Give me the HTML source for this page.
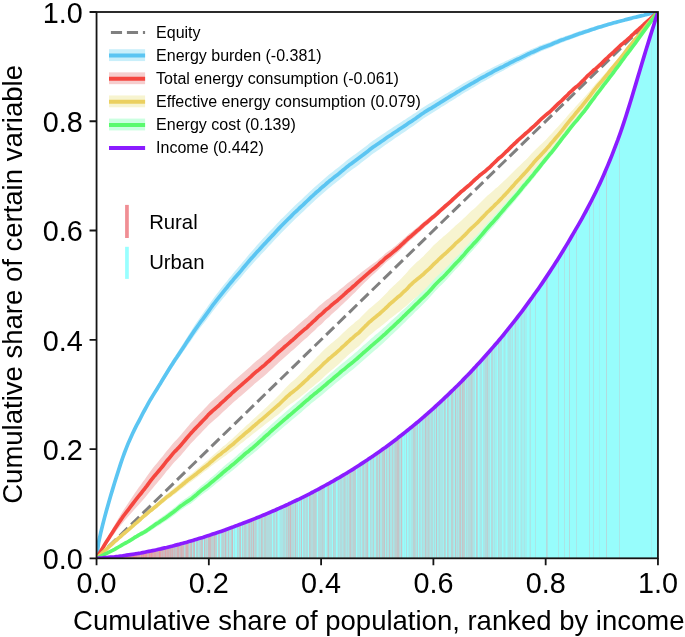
<!DOCTYPE html>
<html><head><meta charset="utf-8"><title>Concentration curves</title>
<style>
html,body{margin:0;padding:0;background:#fff;}
body{width:685px;height:637px;overflow:hidden;}
svg{display:block;}
text{font-family:"Liberation Sans",Arial,Helvetica,sans-serif;fill:#000;}
.tick{font-size:28.8px;}
.lab{font-size:27.5px;}
.leg{font-size:16px;}
.leg2{font-size:20.3px;}
</style></head><body>
<svg width="685" height="637" viewBox="0 0 685 637">
<rect width="685" height="637" fill="#fff"/>
<defs><clipPath id="ar"><path d="M96.5 558.3L98.6 558.2L100.6 558.0L102.6 557.9L104.6 557.7L106.6 557.6L108.6 557.4L110.6 557.2L112.6 557.0L114.6 556.8L116.6 556.5L118.6 556.3L120.6 556.0L122.6 555.8L124.6 555.5L126.6 555.2L128.6 554.9L130.6 554.6L132.6 554.3L134.6 554.0L136.7 553.7L138.7 553.3L140.7 553.0L142.7 552.6L144.7 552.2L146.7 551.8L148.7 551.4L150.7 551.0L152.7 550.6L154.7 550.2L156.7 549.8L158.7 549.3L160.7 548.9L162.7 548.4L164.7 547.9L166.7 547.5L168.7 547.0L170.7 546.5L172.7 546.0L174.7 545.4L176.8 544.9L178.8 544.4L180.8 543.8L182.8 543.3L184.8 542.7L186.8 542.2L188.8 541.6L190.8 541.0L192.8 540.4L194.8 539.8L196.8 539.2L198.8 538.6L200.8 538.0L202.8 537.4L204.8 536.7L206.8 536.1L208.8 535.4L210.8 534.8L212.8 534.1L214.8 533.4L216.9 532.7L218.9 532.1L220.9 531.4L222.9 530.7L224.9 530.0L226.9 529.2L228.9 528.5L230.9 527.8L232.9 527.1L234.9 526.3L236.9 525.6L238.9 524.8L240.9 524.1L242.9 523.3L244.9 522.5L246.9 521.8L248.9 521.0L250.9 520.2L252.9 519.4L254.9 518.6L256.9 517.8L259.0 517.0L261.0 516.1L263.0 515.3L265.0 514.5L267.0 513.6L269.0 512.8L271.0 511.9L273.0 511.0L275.0 510.2L277.0 509.3L279.0 508.4L281.0 507.5L283.0 506.6L285.0 505.7L287.0 504.8L289.0 503.8L291.0 502.9L293.0 501.9L295.0 501.0L297.1 500.0L299.1 499.1L301.1 498.1L303.1 497.1L305.1 496.1L307.1 495.1L309.1 494.1L311.1 493.0L313.1 492.0L315.1 490.9L317.1 489.9L319.1 488.8L321.1 487.7L323.1 486.6L325.1 485.5L327.1 484.4L329.1 483.3L331.1 482.2L333.1 481.1L335.1 479.9L337.2 478.7L339.2 477.6L341.2 476.4L343.2 475.2L345.2 474.0L347.2 472.8L349.2 471.5L351.2 470.3L353.2 469.1L355.2 467.8L357.2 466.5L359.2 465.2L361.2 463.9L363.2 462.6L365.2 461.3L367.2 460.0L369.2 458.6L371.2 457.3L373.2 455.9L375.2 454.5L377.3 453.1L379.3 451.7L381.3 450.3L383.3 448.8L385.3 447.4L387.3 445.9L389.3 444.4L391.3 442.9L393.3 441.4L395.3 439.9L397.3 438.4L399.3 436.8L401.3 435.3L403.3 433.7L405.3 432.1L407.3 430.5L409.3 428.9L411.3 427.3L413.3 425.6L415.3 424.0L417.4 422.3L419.4 420.6L421.4 418.9L423.4 417.2L425.4 415.4L427.4 413.7L429.4 411.9L431.4 410.1L433.4 408.3L435.4 406.5L437.4 404.7L439.4 402.8L441.4 401.0L443.4 399.1L445.4 397.2L447.4 395.3L449.4 393.4L451.4 391.4L453.4 389.5L455.4 387.5L457.5 385.5L459.5 383.5L461.5 381.5L463.5 379.4L465.5 377.3L467.5 375.3L469.5 373.2L471.5 371.1L473.5 368.9L475.5 366.8L477.5 364.6L479.5 362.4L481.5 360.2L483.5 358.0L485.5 355.7L487.5 353.5L489.5 351.2L491.5 348.9L493.5 346.6L495.5 344.2L497.6 341.9L499.6 339.5L501.6 337.1L503.6 334.7L505.6 332.2L507.6 329.7L509.6 327.2L511.6 324.7L513.6 322.2L515.6 319.6L517.6 317.0L519.6 314.4L521.6 311.8L523.6 309.1L525.6 306.4L527.6 303.7L529.6 300.9L531.6 298.2L533.6 295.3L535.6 292.5L537.7 289.7L539.7 286.8L541.7 283.9L543.7 280.9L545.7 277.9L547.7 274.9L549.7 271.9L551.7 268.8L553.7 265.7L555.7 262.6L557.7 259.4L559.7 256.2L561.7 253.0L563.7 249.7L565.7 246.4L567.7 243.1L569.7 239.7L571.7 236.3L573.7 232.9L575.7 229.4L577.8 225.9L579.8 222.4L581.8 218.8L583.8 215.2L585.8 211.5L587.8 207.7L589.8 203.9L591.8 200.0L593.8 196.0L595.8 192.0L597.8 187.8L599.8 183.6L601.8 179.2L603.8 174.7L605.8 170.1L607.8 165.4L609.8 160.5L611.8 155.6L613.8 150.4L615.8 145.1L617.9 139.7L619.9 134.1L621.9 128.3L623.9 122.4L625.9 116.2L627.9 109.9L629.9 103.5L631.9 97.0L633.9 90.3L635.9 83.6L637.9 76.9L639.9 70.2L641.9 63.5L643.9 56.9L645.9 50.3L647.9 43.9L649.9 37.4L651.9 31.0L653.9 24.7L655.9 18.3L658.0 12.0L658.0 558.3 L96.5 558.3 Z"/></clipPath><clipPath id="ax"><rect x="96.5" y="12.0" width="561.4" height="546.3"/></clipPath></defs>
<g clip-path="url(#ar)"><rect x="96.5" y="12.0" width="561.4" height="546.3" fill="#97FDFC"/><path d="M257.5 558.3V12.0M275.5 558.3V12.0M279.5 558.3V12.0M300.5 558.3V12.0M326.5 558.3V12.0M337.5 558.3V12.0M361.5 558.3V12.0M368.5 558.3V12.0M374.5 558.3V12.0M375.5 558.3V12.0M385.5 558.3V12.0M402.5 558.3V12.0M404.5 558.3V12.0M408.5 558.3V12.0M410.5 558.3V12.0M421.5 558.3V12.0M433.5 558.3V12.0M435.5 558.3V12.0M437.5 558.3V12.0M443.5 558.3V12.0M449.5 558.3V12.0M450.5 558.3V12.0M454.5 558.3V12.0M465.5 558.3V12.0M479.5 558.3V12.0M493.5 558.3V12.0M495.5 558.3V12.0M496.5 558.3V12.0M503.5 558.3V12.0M505.5 558.3V12.0M507.5 558.3V12.0M511.5 558.3V12.0M514.5 558.3V12.0M516.5 558.3V12.0M517.5 558.3V12.0M518.5 558.3V12.0M520.5 558.3V12.0M522.5 558.3V12.0M523.5 558.3V12.0M525.5 558.3V12.0M526.5 558.3V12.0M529.5 558.3V12.0M599.5 558.3V12.0M651.5 558.3V12.0" stroke="#F08E94" stroke-width="1" stroke-opacity="0.1" fill="none"/><path d="M192.5 558.3V12.0M198.5 558.3V12.0M227.5 558.3V12.0M229.5 558.3V12.0M230.5 558.3V12.0M234.5 558.3V12.0M238.5 558.3V12.0M243.5 558.3V12.0M247.5 558.3V12.0M258.5 558.3V12.0M260.5 558.3V12.0M263.5 558.3V12.0M277.5 558.3V12.0M280.5 558.3V12.0M281.5 558.3V12.0M282.5 558.3V12.0M285.5 558.3V12.0M294.5 558.3V12.0M296.5 558.3V12.0M305.5 558.3V12.0M329.5 558.3V12.0M330.5 558.3V12.0M331.5 558.3V12.0M339.5 558.3V12.0M342.5 558.3V12.0M346.5 558.3V12.0M348.5 558.3V12.0M357.5 558.3V12.0M358.5 558.3V12.0M359.5 558.3V12.0M364.5 558.3V12.0M371.5 558.3V12.0M372.5 558.3V12.0M378.5 558.3V12.0M380.5 558.3V12.0M381.5 558.3V12.0M387.5 558.3V12.0M388.5 558.3V12.0M390.5 558.3V12.0M391.5 558.3V12.0M393.5 558.3V12.0M400.5 558.3V12.0M409.5 558.3V12.0M411.5 558.3V12.0M412.5 558.3V12.0M416.5 558.3V12.0M420.5 558.3V12.0M423.5 558.3V12.0M424.5 558.3V12.0M430.5 558.3V12.0M438.5 558.3V12.0M440.5 558.3V12.0M441.5 558.3V12.0M442.5 558.3V12.0M453.5 558.3V12.0M456.5 558.3V12.0M458.5 558.3V12.0M461.5 558.3V12.0M467.5 558.3V12.0M473.5 558.3V12.0M474.5 558.3V12.0M480.5 558.3V12.0M481.5 558.3V12.0M483.5 558.3V12.0M484.5 558.3V12.0M488.5 558.3V12.0M489.5 558.3V12.0M494.5 558.3V12.0M499.5 558.3V12.0M500.5 558.3V12.0M501.5 558.3V12.0M504.5 558.3V12.0M508.5 558.3V12.0M509.5 558.3V12.0M510.5 558.3V12.0M512.5 558.3V12.0M521.5 558.3V12.0M524.5 558.3V12.0M530.5 558.3V12.0M535.5 558.3V12.0M547.5 558.3V12.0M558.5 558.3V12.0M564.5 558.3V12.0M576.5 558.3V12.0M589.5 558.3V12.0M593.5 558.3V12.0M619.5 558.3V12.0" stroke="#F08E94" stroke-width="1" stroke-opacity="0.2" fill="none"/><path d="M184.5 558.3V12.0M189.5 558.3V12.0M199.5 558.3V12.0M205.5 558.3V12.0M207.5 558.3V12.0M221.5 558.3V12.0M224.5 558.3V12.0M226.5 558.3V12.0M237.5 558.3V12.0M246.5 558.3V12.0M250.5 558.3V12.0M252.5 558.3V12.0M254.5 558.3V12.0M256.5 558.3V12.0M259.5 558.3V12.0M266.5 558.3V12.0M267.5 558.3V12.0M268.5 558.3V12.0M269.5 558.3V12.0M270.5 558.3V12.0M271.5 558.3V12.0M273.5 558.3V12.0M274.5 558.3V12.0M283.5 558.3V12.0M284.5 558.3V12.0M287.5 558.3V12.0M291.5 558.3V12.0M292.5 558.3V12.0M293.5 558.3V12.0M297.5 558.3V12.0M299.5 558.3V12.0M303.5 558.3V12.0M304.5 558.3V12.0M306.5 558.3V12.0M307.5 558.3V12.0M311.5 558.3V12.0M312.5 558.3V12.0M316.5 558.3V12.0M318.5 558.3V12.0M319.5 558.3V12.0M320.5 558.3V12.0M321.5 558.3V12.0M323.5 558.3V12.0M324.5 558.3V12.0M327.5 558.3V12.0M334.5 558.3V12.0M335.5 558.3V12.0M338.5 558.3V12.0M340.5 558.3V12.0M341.5 558.3V12.0M343.5 558.3V12.0M345.5 558.3V12.0M347.5 558.3V12.0M351.5 558.3V12.0M352.5 558.3V12.0M360.5 558.3V12.0M362.5 558.3V12.0M365.5 558.3V12.0M370.5 558.3V12.0M394.5 558.3V12.0M399.5 558.3V12.0M406.5 558.3V12.0M415.5 558.3V12.0M419.5 558.3V12.0M422.5 558.3V12.0M426.5 558.3V12.0M427.5 558.3V12.0M429.5 558.3V12.0M431.5 558.3V12.0M432.5 558.3V12.0M434.5 558.3V12.0M439.5 558.3V12.0M445.5 558.3V12.0M448.5 558.3V12.0M457.5 558.3V12.0M466.5 558.3V12.0M468.5 558.3V12.0M469.5 558.3V12.0M470.5 558.3V12.0M472.5 558.3V12.0M477.5 558.3V12.0M485.5 558.3V12.0M486.5 558.3V12.0M491.5 558.3V12.0M492.5 558.3V12.0M498.5 558.3V12.0M515.5 558.3V12.0M546.5 558.3V12.0M569.5 558.3V12.0M606.5 558.3V12.0" stroke="#F08E94" stroke-width="1" stroke-opacity="0.3" fill="none"/><path d="M196.5 558.3V12.0M197.5 558.3V12.0M200.5 558.3V12.0M206.5 558.3V12.0M211.5 558.3V12.0M212.5 558.3V12.0M213.5 558.3V12.0M215.5 558.3V12.0M216.5 558.3V12.0M218.5 558.3V12.0M219.5 558.3V12.0M222.5 558.3V12.0M223.5 558.3V12.0M231.5 558.3V12.0M239.5 558.3V12.0M242.5 558.3V12.0M244.5 558.3V12.0M245.5 558.3V12.0M248.5 558.3V12.0M255.5 558.3V12.0M262.5 558.3V12.0M264.5 558.3V12.0M265.5 558.3V12.0M276.5 558.3V12.0M286.5 558.3V12.0M289.5 558.3V12.0M310.5 558.3V12.0M313.5 558.3V12.0M314.5 558.3V12.0M315.5 558.3V12.0M322.5 558.3V12.0M333.5 558.3V12.0M344.5 558.3V12.0M349.5 558.3V12.0M353.5 558.3V12.0M354.5 558.3V12.0M355.5 558.3V12.0M363.5 558.3V12.0M366.5 558.3V12.0M373.5 558.3V12.0M376.5 558.3V12.0M377.5 558.3V12.0M382.5 558.3V12.0M383.5 558.3V12.0M386.5 558.3V12.0M392.5 558.3V12.0M395.5 558.3V12.0M396.5 558.3V12.0M413.5 558.3V12.0M414.5 558.3V12.0M417.5 558.3V12.0M428.5 558.3V12.0M444.5 558.3V12.0M447.5 558.3V12.0M451.5 558.3V12.0M452.5 558.3V12.0M459.5 558.3V12.0M463.5 558.3V12.0M464.5 558.3V12.0M471.5 558.3V12.0M476.5 558.3V12.0M487.5 558.3V12.0" stroke="#F08E94" stroke-width="1" stroke-opacity="0.4" fill="none"/><path d="M173.5 558.3V12.0M175.5 558.3V12.0M176.5 558.3V12.0M179.5 558.3V12.0M185.5 558.3V12.0M188.5 558.3V12.0M190.5 558.3V12.0M193.5 558.3V12.0M201.5 558.3V12.0M202.5 558.3V12.0M228.5 558.3V12.0M240.5 558.3V12.0M249.5 558.3V12.0M251.5 558.3V12.0M261.5 558.3V12.0M288.5 558.3V12.0M295.5 558.3V12.0M301.5 558.3V12.0M309.5 558.3V12.0M328.5 558.3V12.0M350.5 558.3V12.0M367.5 558.3V12.0M379.5 558.3V12.0M384.5 558.3V12.0M389.5 558.3V12.0M397.5 558.3V12.0M398.5 558.3V12.0M401.5 558.3V12.0M425.5 558.3V12.0M436.5 558.3V12.0M455.5 558.3V12.0M460.5 558.3V12.0M462.5 558.3V12.0" stroke="#F08E94" stroke-width="1" stroke-opacity="0.5" fill="none"/><path d="M161.5 558.3V12.0M163.5 558.3V12.0M164.5 558.3V12.0M166.5 558.3V12.0M169.5 558.3V12.0M171.5 558.3V12.0M174.5 558.3V12.0M180.5 558.3V12.0M182.5 558.3V12.0M183.5 558.3V12.0M191.5 558.3V12.0M194.5 558.3V12.0M204.5 558.3V12.0M208.5 558.3V12.0M209.5 558.3V12.0M210.5 558.3V12.0M214.5 558.3V12.0M225.5 558.3V12.0M232.5 558.3V12.0M253.5 558.3V12.0M290.5 558.3V12.0" stroke="#F08E94" stroke-width="1" stroke-opacity="0.6" fill="none"/><path d="M118.5 558.3V12.0M123.5 558.3V12.0M140.5 558.3V12.0M147.5 558.3V12.0M148.5 558.3V12.0M153.5 558.3V12.0M156.5 558.3V12.0M157.5 558.3V12.0M158.5 558.3V12.0M162.5 558.3V12.0M167.5 558.3V12.0M168.5 558.3V12.0M170.5 558.3V12.0M172.5 558.3V12.0M177.5 558.3V12.0M178.5 558.3V12.0M181.5 558.3V12.0M186.5 558.3V12.0M187.5 558.3V12.0" stroke="#F08E94" stroke-width="1" stroke-opacity="0.7" fill="none"/><path d="M103.5 558.3V12.0M107.5 558.3V12.0M108.5 558.3V12.0M109.5 558.3V12.0M112.5 558.3V12.0M117.5 558.3V12.0M120.5 558.3V12.0M121.5 558.3V12.0M122.5 558.3V12.0M125.5 558.3V12.0M131.5 558.3V12.0M132.5 558.3V12.0M137.5 558.3V12.0M138.5 558.3V12.0M139.5 558.3V12.0M142.5 558.3V12.0M144.5 558.3V12.0M150.5 558.3V12.0M152.5 558.3V12.0M154.5 558.3V12.0M155.5 558.3V12.0M160.5 558.3V12.0M165.5 558.3V12.0" stroke="#F08E94" stroke-width="1" stroke-opacity="0.8" fill="none"/><path d="M97.5 558.3V12.0M98.5 558.3V12.0M100.5 558.3V12.0M101.5 558.3V12.0M102.5 558.3V12.0M104.5 558.3V12.0M105.5 558.3V12.0M106.5 558.3V12.0M110.5 558.3V12.0M111.5 558.3V12.0M115.5 558.3V12.0M116.5 558.3V12.0M119.5 558.3V12.0M124.5 558.3V12.0M126.5 558.3V12.0M127.5 558.3V12.0M128.5 558.3V12.0M129.5 558.3V12.0M130.5 558.3V12.0M135.5 558.3V12.0M136.5 558.3V12.0M141.5 558.3V12.0M143.5 558.3V12.0M145.5 558.3V12.0M146.5 558.3V12.0M149.5 558.3V12.0M151.5 558.3V12.0M159.5 558.3V12.0" stroke="#F08E94" stroke-width="1" stroke-opacity="0.9" fill="none"/><path d="M99.5 558.3V12.0M113.5 558.3V12.0M114.5 558.3V12.0M133.5 558.3V12.0M134.5 558.3V12.0" stroke="#F08E94" stroke-width="1" stroke-opacity="1.0" fill="none"/></g>
<g clip-path="url(#ax)" fill="none" stroke-linejoin="round">
<path d="M96.5 558.3L98.6 542.4L100.6 533.1L102.6 524.8L104.6 517.1L106.6 509.6L108.6 502.5L110.6 495.5L112.6 488.7L114.6 482.0L116.6 475.5L118.6 469.1L120.6 462.8L122.6 456.9L124.6 451.2L126.6 446.1L128.6 441.0L130.6 436.4L132.6 432.0L134.6 427.7L136.7 423.4L138.7 419.6L140.7 415.6L142.7 411.7L144.7 407.9L146.7 404.1L148.7 400.4L150.7 396.8L152.7 393.4L154.7 390.0L156.7 386.7L158.7 383.3L160.7 379.9L162.7 376.5L164.7 373.2L166.7 369.7L168.7 366.4L170.7 363.1L172.7 359.8L174.7 356.7L176.8 353.5L178.8 350.3L180.8 347.2L182.8 344.1L184.8 340.9L186.8 337.7L188.8 334.6L190.8 331.4L192.8 328.2L194.8 325.1L196.8 322.1L198.8 319.2L200.8 316.2L202.8 313.5L204.8 310.5L206.8 307.7L208.8 304.8L210.8 302.0L212.8 299.2L214.8 296.5L216.9 293.8L218.9 291.2L220.9 288.6L222.9 286.1L224.9 283.6L226.9 281.2L228.9 278.6L230.9 276.2L232.9 273.7L234.9 271.3L236.9 269.0L238.9 266.6L240.9 264.3L242.9 261.7L244.9 259.4L246.9 257.0L248.9 254.5L250.9 252.2L252.9 250.0L254.9 247.7L256.9 245.3L259.0 243.1L261.0 240.8L263.0 238.5L265.0 236.4L267.0 234.2L269.0 232.1L271.0 230.0L273.0 227.9L275.0 225.7L277.0 223.6L279.0 221.5L281.0 219.3L283.0 217.4L285.0 215.4L287.0 213.4L289.0 211.4L291.0 209.5L293.0 207.4L295.0 205.5L297.1 203.6L299.1 201.7L301.1 199.9L303.1 198.0L305.1 196.1L307.1 194.2L309.1 192.3L311.1 190.4L313.1 188.6L315.1 186.8L317.1 185.0L319.1 183.3L321.1 181.5L323.1 179.8L325.1 178.1L327.1 176.3L329.1 174.6L331.1 173.1L333.1 171.4L335.1 169.8L337.2 168.3L339.2 166.7L341.2 164.9L343.2 163.4L345.2 161.8L347.2 160.1L349.2 158.5L351.2 157.1L353.2 155.6L355.2 154.2L357.2 152.7L359.2 151.3L361.2 149.7L363.2 148.2L365.2 146.7L367.2 145.2L369.2 143.6L371.2 142.1L373.2 140.6L375.2 139.2L377.3 137.8L379.3 136.5L381.3 135.1L383.3 133.8L385.3 132.4L387.3 131.0L389.3 129.7L391.3 128.5L393.3 127.1L395.3 125.8L397.3 124.5L399.3 123.2L401.3 121.9L403.3 120.6L405.3 119.4L407.3 118.1L409.3 116.7L411.3 115.5L413.3 114.1L415.3 112.9L417.4 111.4L419.4 110.0L421.4 108.6L423.4 107.3L425.4 105.9L427.4 104.8L429.4 103.6L431.4 102.5L433.4 101.3L435.4 100.1L437.4 98.9L439.4 97.7L441.4 96.4L443.4 95.2L445.4 94.1L447.4 93.0L449.4 91.7L451.4 90.6L453.4 89.4L455.4 88.2L457.5 86.9L459.5 85.8L461.5 84.5L463.5 83.3L465.5 82.2L467.5 81.1L469.5 80.0L471.5 78.9L473.5 77.8L475.5 76.7L477.5 75.6L479.5 74.4L481.5 73.3L483.5 72.2L485.5 71.2L487.5 70.1L489.5 69.2L491.5 68.1L493.5 66.9L495.5 65.9L497.6 65.0L499.6 64.0L501.6 63.1L503.6 62.2L505.6 61.1L507.6 60.3L509.6 59.2L511.6 58.2L513.6 57.3L515.6 56.4L517.6 55.5L519.6 54.7L521.6 53.8L523.6 52.8L525.6 51.8L527.6 50.9L529.6 50.1L531.6 49.1L533.6 48.3L535.6 47.5L537.7 46.6L539.7 45.6L541.7 44.9L543.7 44.1L545.7 43.5L547.7 42.8L549.7 42.2L551.7 41.3L553.7 40.4L555.7 39.6L557.7 38.9L559.7 38.1L561.7 37.3L563.7 36.7L565.7 36.0L567.7 35.3L569.7 34.7L571.7 34.1L573.7 33.3L575.7 32.5L577.8 31.8L579.8 31.1L581.8 30.5L583.8 29.8L585.8 29.4L587.8 28.7L589.8 28.0L591.8 27.4L593.8 26.8L595.8 26.2L597.8 25.5L599.8 25.0L601.8 24.4L603.8 23.8L605.8 23.3L607.8 22.8L609.8 22.3L611.8 21.8L613.8 21.3L615.8 20.9L617.9 20.4L619.9 19.8L621.9 19.4L623.9 19.0L625.9 18.4L627.9 18.0L629.9 17.6L631.9 17.2L633.9 16.7L635.9 16.3L637.9 15.9L639.9 15.4L641.9 15.1L643.9 14.7L645.9 14.2L647.9 13.8L649.9 13.5L651.9 13.1L653.9 12.7L655.9 12.4L658.0 12.0L658.0 12.0L655.9 12.5L653.9 13.0L651.9 13.5L649.9 14.1L647.9 14.5L645.9 15.1L643.9 15.7L641.9 16.2L639.9 16.7L637.9 17.3L635.9 17.9L633.9 18.4L631.9 19.0L629.9 19.6L627.9 20.2L625.9 20.7L623.9 21.5L621.9 22.0L619.9 22.6L617.9 23.3L615.8 23.9L613.8 24.4L611.8 25.1L609.8 25.8L607.8 26.4L605.8 27.0L603.8 27.7L601.8 28.4L599.8 29.1L597.8 29.7L595.8 30.4L593.8 31.1L591.8 31.7L589.8 32.5L587.8 33.2L585.8 33.9L583.8 34.5L581.8 35.2L579.8 35.9L577.8 36.7L575.7 37.4L573.7 38.3L571.7 39.1L569.7 39.8L567.7 40.5L565.7 41.3L563.7 42.1L561.7 42.7L559.7 43.6L557.7 44.5L555.7 45.3L553.7 46.1L551.7 47.1L549.7 48.0L547.7 48.7L545.7 49.5L543.7 50.3L541.7 51.1L539.7 51.9L537.7 53.0L535.6 54.1L533.6 55.0L531.6 55.8L529.6 56.9L527.6 57.8L525.6 58.9L523.6 60.0L521.6 61.1L519.6 62.1L517.6 63.0L515.6 64.1L513.6 65.0L511.6 66.0L509.6 67.1L507.6 68.3L505.6 69.3L503.6 70.4L501.6 71.5L499.6 72.5L497.6 73.6L495.5 74.5L493.5 75.7L491.5 77.0L489.5 78.2L487.5 79.2L485.5 80.4L483.5 81.4L481.5 82.5L479.5 83.7L477.5 85.0L475.5 86.2L473.5 87.4L471.5 88.6L469.5 89.7L467.5 90.9L465.5 92.1L463.5 93.3L461.5 94.5L459.5 95.9L457.5 97.0L455.4 98.4L453.4 99.7L451.4 100.9L449.4 102.1L447.4 103.5L445.4 104.7L443.4 105.9L441.4 107.1L439.4 108.5L437.4 109.8L435.4 111.0L433.4 112.3L431.4 113.6L429.4 114.8L427.4 116.0L425.4 117.2L423.4 118.6L421.4 120.0L419.4 121.5L417.4 122.9L415.3 124.5L413.3 125.9L411.3 127.3L409.3 128.6L407.3 130.0L405.3 131.4L403.3 132.7L401.3 134.1L399.3 135.4L397.3 136.8L395.3 138.1L393.3 139.5L391.3 141.0L389.3 142.3L387.3 143.7L385.3 145.1L383.3 146.6L381.3 148.0L379.3 149.4L377.3 150.8L375.2 152.2L373.2 153.6L371.2 155.1L369.2 156.7L367.2 158.3L365.2 159.8L363.2 161.3L361.2 162.8L359.2 164.4L357.2 165.9L355.2 167.4L353.2 168.8L351.2 170.3L349.2 171.7L347.2 173.3L345.2 175.0L343.2 176.7L341.2 178.2L339.2 180.0L337.2 181.6L335.1 183.2L333.1 184.8L331.1 186.5L329.1 188.0L327.1 189.8L325.1 191.6L323.1 193.2L321.1 195.0L319.1 196.8L317.1 198.5L315.1 200.3L313.1 202.2L311.1 204.0L309.1 205.9L307.1 207.8L305.1 209.7L303.1 211.7L301.1 213.5L299.1 215.4L297.1 217.3L295.0 219.2L293.0 221.2L291.0 223.3L289.0 225.2L287.0 227.2L285.0 229.2L283.0 231.2L281.0 233.2L279.0 235.4L277.0 237.5L275.0 239.6L273.0 241.8L271.0 244.0L269.0 246.1L267.0 248.2L265.0 250.4L263.0 252.5L261.0 254.6L259.0 256.9L256.9 259.0L254.9 261.3L252.9 263.6L250.9 265.7L248.9 268.0L246.9 270.3L244.9 272.6L242.9 274.9L240.9 277.4L238.9 279.7L236.9 282.0L234.9 284.2L232.9 286.6L230.9 288.9L228.9 291.3L226.9 293.8L224.9 296.2L222.9 298.6L220.9 301.1L218.9 303.5L216.9 306.1L214.8 308.8L212.8 311.3L210.8 314.0L208.8 316.8L206.8 319.4L204.8 322.0L202.8 324.6L200.8 327.1L198.8 329.8L196.8 332.4L194.8 335.1L192.8 337.9L190.8 340.9L188.8 343.7L186.8 346.6L184.8 349.5L182.8 352.3L180.8 355.2L178.8 358.1L176.8 361.1L174.7 364.0L172.7 367.0L170.7 370.0L168.7 373.1L166.7 376.2L164.7 379.5L162.7 382.5L160.7 385.8L158.7 388.9L156.7 392.1L154.7 395.2L152.7 398.4L150.7 401.6L148.7 405.0L146.7 408.6L144.7 412.1L142.7 415.8L140.7 419.5L138.7 423.3L136.7 427.0L134.6 431.1L132.6 435.2L130.6 439.5L128.6 443.8L126.6 448.8L124.6 453.7L122.6 459.2L120.6 465.0L118.6 471.1L116.6 477.3L114.6 483.6L112.6 490.2L110.6 496.7L108.6 503.6L106.6 510.5L104.6 517.8L102.6 525.3L100.6 533.4L98.6 542.6L96.5 558.3Z" fill="#C9EFFA" stroke="none"/>
<path d="M96.5 558.3L98.6 554.4L100.6 550.5L102.6 546.7L104.6 542.9L106.6 539.2L108.6 535.5L110.6 532.0L112.6 528.4L114.6 524.9L116.6 521.4L118.6 518.1L120.6 514.8L122.6 511.5L124.6 508.5L126.6 505.5L128.6 502.5L130.6 499.5L132.6 496.5L134.6 493.5L136.7 490.5L138.7 487.6L140.7 484.9L142.7 482.1L144.7 479.4L146.7 476.6L148.7 473.7L150.7 470.9L152.7 468.2L154.7 465.7L156.7 463.4L158.7 460.9L160.7 458.5L162.7 456.2L164.7 453.6L166.7 450.9L168.7 448.7L170.7 446.2L172.7 443.7L174.7 441.4L176.8 439.5L178.8 437.2L180.8 435.0L182.8 432.6L184.8 430.2L186.8 427.7L188.8 425.4L190.8 423.1L192.8 421.0L194.8 418.8L196.8 416.7L198.8 414.6L200.8 412.6L202.8 410.4L204.8 408.3L206.8 406.2L208.8 403.9L210.8 402.1L212.8 400.3L214.8 398.5L216.9 396.8L218.9 395.0L220.9 393.0L222.9 391.2L224.9 389.3L226.9 387.4L228.9 385.6L230.9 383.8L232.9 381.8L234.9 380.0L236.9 378.3L238.9 376.5L240.9 374.8L242.9 373.0L244.9 371.3L246.9 369.5L248.9 367.8L250.9 366.0L252.9 364.1L254.9 362.3L256.9 360.6L259.0 358.9L261.0 357.2L263.0 355.6L265.0 353.9L267.0 352.1L269.0 350.3L271.0 348.5L273.0 346.8L275.0 344.9L277.0 343.1L279.0 341.2L281.0 339.7L283.0 337.8L285.0 336.1L287.0 334.5L289.0 332.8L291.0 331.0L293.0 329.4L295.0 327.7L297.1 325.7L299.1 324.0L301.1 322.2L303.1 320.4L305.1 318.7L307.1 317.3L309.1 315.3L311.1 313.5L313.1 311.7L315.1 310.0L317.1 307.9L319.1 306.1L321.1 304.6L323.1 302.8L325.1 301.0L327.1 299.4L329.1 298.2L331.1 296.2L333.1 294.8L335.1 293.4L337.2 292.0L339.2 290.1L341.2 288.5L343.2 287.0L345.2 285.2L347.2 283.6L349.2 282.0L351.2 280.5L353.2 278.9L355.2 277.5L357.2 275.7L359.2 274.2L361.2 272.6L363.2 271.1L365.2 269.5L367.2 268.0L369.2 266.5L371.2 265.0L373.2 263.5L375.2 262.3L377.3 260.7L379.3 258.8L381.3 257.2L383.3 255.5L385.3 253.6L387.3 252.1L389.3 250.6L391.3 249.2L393.3 247.5L395.3 246.0L397.3 244.3L399.3 242.6L401.3 240.8L403.3 239.1L405.3 237.2L407.3 235.6L409.3 233.6L411.3 232.2L413.3 230.6L415.3 228.9L417.4 227.0L419.4 225.6L421.4 223.7L423.4 222.0L425.4 220.3L427.4 218.9L429.4 217.2L431.4 215.5L433.4 214.0L435.4 212.3L437.4 210.5L439.4 208.7L441.4 207.0L443.4 205.2L445.4 203.4L447.4 201.7L449.4 200.1L451.4 198.3L453.4 196.4L455.4 194.7L457.5 192.7L459.5 190.9L461.5 189.0L463.5 187.6L465.5 185.8L467.5 184.2L469.5 182.5L471.5 180.7L473.5 178.8L475.5 177.0L477.5 175.3L479.5 173.4L481.5 171.9L483.5 170.3L485.5 168.8L487.5 167.1L489.5 165.6L491.5 163.5L493.5 161.5L495.5 159.7L497.6 157.6L499.6 155.8L501.6 154.3L503.6 152.4L505.6 150.4L507.6 148.7L509.6 146.7L511.6 144.7L513.6 142.8L515.6 141.0L517.6 139.0L519.6 137.3L521.6 135.6L523.6 133.7L525.6 132.0L527.6 130.3L529.6 128.6L531.6 126.6L533.6 125.0L535.6 123.1L537.7 121.2L539.7 119.1L541.7 117.2L543.7 115.6L545.7 113.9L547.7 112.2L549.7 110.7L551.7 108.8L553.7 106.8L555.7 104.9L557.7 103.0L559.7 101.1L561.7 99.5L563.7 97.5L565.7 95.5L567.7 93.7L569.7 91.5L571.7 89.7L573.7 88.0L575.7 86.3L577.8 84.7L579.8 82.8L581.8 80.8L583.8 79.0L585.8 76.9L587.8 74.7L589.8 73.1L591.8 71.3L593.8 69.4L595.8 67.9L597.8 66.1L599.8 64.3L601.8 62.4L603.8 60.5L605.8 58.4L607.8 56.7L609.8 54.8L611.8 53.1L613.8 51.3L615.8 49.3L617.9 47.5L619.9 45.6L621.9 43.8L623.9 42.2L625.9 40.7L627.9 38.8L629.9 37.2L631.9 35.1L633.9 33.3L635.9 31.4L637.9 29.7L639.9 27.9L641.9 26.2L643.9 24.3L645.9 22.5L647.9 20.8L649.9 19.1L651.9 17.3L653.9 15.5L655.9 13.8L658.0 12.0L658.0 12.0L655.9 13.8L653.9 15.6L651.9 17.4L649.9 19.3L647.9 21.0L645.9 22.8L643.9 24.7L641.9 26.5L639.9 28.3L637.9 30.2L635.9 31.9L633.9 33.9L631.9 35.7L629.9 37.8L627.9 39.5L625.9 41.4L623.9 43.0L621.9 44.6L619.9 46.5L617.9 48.4L615.8 50.3L613.8 52.3L611.8 54.2L609.8 55.9L607.8 57.9L605.8 59.7L603.8 61.8L601.8 63.8L599.8 65.7L597.8 67.5L595.8 69.4L593.8 70.9L591.8 72.9L589.8 74.7L587.8 76.4L585.8 78.7L583.8 80.8L581.8 82.6L579.8 84.7L577.8 86.6L575.7 88.2L573.7 90.0L571.7 91.8L569.7 93.6L567.7 95.9L565.7 97.7L563.7 99.7L561.7 101.7L559.7 103.4L557.7 105.4L555.7 107.3L553.7 109.3L551.7 111.3L549.7 113.3L547.7 114.8L545.7 116.5L543.7 118.3L541.7 120.0L539.7 121.9L537.7 124.1L535.6 126.0L533.6 128.0L531.6 129.6L529.6 131.6L527.6 133.4L525.6 135.1L523.6 136.9L521.6 138.8L519.6 140.6L517.6 142.3L515.6 144.4L513.6 146.2L511.6 148.2L509.6 150.2L507.6 152.3L505.6 154.0L503.6 156.1L501.6 158.0L499.6 159.5L497.6 161.5L495.5 163.5L493.5 165.4L491.5 167.4L489.5 169.6L487.5 171.1L485.5 172.9L483.5 174.5L481.5 176.2L479.5 177.7L477.5 179.7L475.5 181.4L473.5 183.3L471.5 185.2L469.5 187.1L467.5 188.9L465.5 190.5L463.5 192.3L461.5 193.8L459.5 195.7L457.5 197.6L455.4 199.6L453.4 201.4L451.4 203.4L449.4 205.2L447.4 206.9L445.4 208.7L443.4 210.5L441.4 212.3L439.4 214.2L437.4 216.0L435.4 217.9L433.4 219.6L431.4 221.3L429.4 223.1L427.4 225.0L425.4 226.5L423.4 228.4L421.4 230.3L419.4 232.3L417.4 233.9L415.3 236.0L413.3 237.8L411.3 239.5L409.3 241.1L407.3 243.2L405.3 245.0L403.3 247.1L401.3 248.9L399.3 250.9L397.3 252.7L395.3 254.6L393.3 256.3L391.3 258.1L389.3 259.7L387.3 261.3L385.3 263.0L383.3 265.0L381.3 266.9L379.3 268.7L377.3 270.7L375.2 272.7L373.2 274.4L371.2 276.3L369.2 278.3L367.2 280.2L365.2 282.1L363.2 284.1L361.2 286.0L359.2 288.1L357.2 290.0L355.2 292.2L353.2 294.1L351.2 296.1L349.2 298.0L347.2 299.9L345.2 301.8L343.2 303.8L341.2 305.6L339.2 307.5L337.2 309.6L335.1 311.3L333.1 312.9L331.1 314.7L329.1 316.9L327.1 318.4L325.1 320.2L323.1 322.4L321.1 324.4L319.1 326.0L317.1 327.8L315.1 330.0L313.1 331.7L311.1 333.6L309.1 335.4L307.1 337.5L305.1 339.0L303.1 340.8L301.1 342.6L299.1 344.4L297.1 346.2L295.0 348.2L293.0 350.0L291.0 351.6L289.0 353.6L287.0 355.3L285.0 357.0L283.0 358.7L281.0 360.6L279.0 362.2L277.0 364.2L275.0 366.0L273.0 368.0L271.0 369.8L269.0 371.6L267.0 373.4L265.0 375.3L263.0 376.9L261.0 378.6L259.0 380.2L256.9 381.9L254.9 383.5L252.9 385.4L250.9 387.2L248.9 389.0L246.9 390.7L244.9 392.5L242.9 394.2L240.9 395.9L238.9 397.6L236.9 399.4L234.9 401.1L232.9 402.8L230.9 404.8L228.9 406.6L226.9 408.4L224.9 410.3L222.9 412.1L220.9 413.9L218.9 415.9L216.9 417.7L214.8 419.4L212.8 421.2L210.8 422.9L208.8 424.7L206.8 427.0L204.8 429.1L202.8 431.1L200.8 433.3L198.8 435.3L196.8 437.3L194.8 439.4L192.8 441.6L190.8 443.6L188.8 445.9L186.8 448.2L184.8 450.7L182.8 453.1L180.8 455.4L178.8 457.6L176.8 459.8L174.7 461.8L172.7 464.0L170.7 466.5L168.7 468.9L166.7 471.1L164.7 473.8L162.7 476.3L160.7 478.7L158.7 481.0L156.7 483.4L154.7 485.8L152.7 488.2L150.7 490.5L148.7 492.9L146.7 495.5L144.7 497.9L142.7 500.2L140.7 502.6L138.7 504.8L136.7 506.9L134.6 509.2L132.6 511.5L130.6 513.8L128.6 516.1L126.6 518.3L124.6 520.5L122.6 522.9L120.6 525.4L118.6 528.0L116.6 530.6L114.6 533.3L112.6 536.0L110.6 538.6L108.6 541.2L106.6 544.0L104.6 546.7L102.6 549.5L100.6 552.4L98.6 555.3L96.5 558.3Z" fill="#F6CDCD" stroke="none"/>
<path d="M96.5 558.3L98.6 556.3L100.6 554.3L102.6 552.4L104.6 550.5L106.6 548.5L108.6 546.6L110.6 544.7L112.6 542.8L114.6 540.9L116.6 539.1L118.6 537.3L120.6 535.4L122.6 533.5L124.6 531.7L126.6 530.1L128.6 528.3L130.6 526.4L132.6 524.6L134.6 522.5L136.7 520.8L138.7 518.9L140.7 517.0L142.7 515.1L144.7 513.5L146.7 511.5L148.7 509.8L150.7 508.0L152.7 506.4L154.7 504.7L156.7 503.1L158.7 501.2L160.7 499.3L162.7 497.6L164.7 495.9L166.7 494.0L168.7 492.6L170.7 491.0L172.7 489.2L174.7 487.6L176.8 486.0L178.8 484.2L180.8 482.5L182.8 480.8L184.8 479.1L186.8 477.3L188.8 475.6L190.8 474.2L192.8 472.7L194.8 470.9L196.8 469.3L198.8 467.6L200.8 466.0L202.8 464.2L204.8 462.6L206.8 461.1L208.8 459.3L210.8 457.3L212.8 455.6L214.8 453.7L216.9 451.9L218.9 450.2L220.9 448.6L222.9 446.6L224.9 445.2L226.9 443.4L228.9 441.6L230.9 439.9L232.9 438.3L234.9 436.3L236.9 434.4L238.9 432.6L240.9 430.6L242.9 428.9L244.9 427.0L246.9 425.1L248.9 423.5L250.9 421.6L252.9 419.5L254.9 417.8L256.9 416.0L259.0 414.0L261.0 412.3L263.0 410.4L265.0 408.6L267.0 406.7L269.0 404.7L271.0 402.8L273.0 400.9L275.0 398.9L277.0 397.0L279.0 395.1L281.0 392.9L283.0 390.8L285.0 388.6L287.0 386.5L289.0 384.6L291.0 382.6L293.0 380.9L295.0 379.2L297.1 377.3L299.1 375.3L301.1 373.2L303.1 371.2L305.1 369.2L307.1 367.2L309.1 364.9L311.1 363.0L313.1 361.0L315.1 358.9L317.1 356.8L319.1 355.0L321.1 352.7L323.1 350.7L325.1 348.8L327.1 347.1L329.1 345.2L331.1 343.6L333.1 341.9L335.1 340.3L337.2 338.4L339.2 336.7L341.2 334.7L343.2 332.8L345.2 331.1L347.2 329.1L349.2 327.3L351.2 325.4L353.2 323.9L355.2 322.0L357.2 320.4L359.2 318.9L361.2 316.8L363.2 314.7L365.2 312.7L367.2 310.8L369.2 308.7L371.2 307.2L373.2 305.4L375.2 303.8L377.3 302.0L379.3 300.3L381.3 298.3L383.3 296.3L385.3 294.2L387.3 292.2L389.3 289.8L391.3 288.0L393.3 286.1L395.3 284.2L397.3 282.2L399.3 280.5L401.3 278.4L403.3 276.2L405.3 274.3L407.3 272.1L409.3 269.6L411.3 267.5L413.3 265.4L415.3 263.6L417.4 261.6L419.4 259.9L421.4 258.0L423.4 256.2L425.4 253.9L427.4 251.9L429.4 250.0L431.4 247.8L433.4 245.5L435.4 243.8L437.4 242.0L439.4 240.1L441.4 238.4L443.4 236.6L445.4 235.0L447.4 233.2L449.4 231.4L451.4 229.6L453.4 227.8L455.4 225.7L457.5 224.0L459.5 222.2L461.5 220.6L463.5 218.6L465.5 216.8L467.5 214.8L469.5 212.7L471.5 210.8L473.5 209.2L475.5 207.4L477.5 205.5L479.5 203.6L481.5 201.6L483.5 199.6L485.5 197.6L487.5 195.5L489.5 193.9L491.5 192.2L493.5 190.4L495.5 188.6L497.6 186.9L499.6 185.1L501.6 183.3L503.6 181.2L505.6 179.4L507.6 177.5L509.6 175.4L511.6 173.5L513.6 171.6L515.6 169.4L517.6 167.5L519.6 165.7L521.6 163.7L523.6 161.8L525.6 159.9L527.6 157.9L529.6 155.7L531.6 153.6L533.6 151.4L535.6 149.4L537.7 147.4L539.7 145.5L541.7 143.7L543.7 141.7L545.7 139.9L547.7 137.7L549.7 135.6L551.7 133.4L553.7 131.3L555.7 129.1L557.7 127.1L559.7 124.8L561.7 122.6L563.7 120.2L565.7 117.9L567.7 115.6L569.7 113.3L571.7 111.1L573.7 108.9L575.7 106.5L577.8 104.3L579.8 102.1L581.8 100.0L583.8 97.7L585.8 95.5L587.8 93.2L589.8 90.9L591.8 88.2L593.8 85.9L595.8 83.6L597.8 81.3L599.8 79.2L601.8 77.1L603.8 74.9L605.8 72.6L607.8 70.2L609.8 67.8L611.8 65.5L613.8 63.2L615.8 60.9L617.9 58.6L619.9 56.3L621.9 53.8L623.9 51.4L625.9 48.8L627.9 46.2L629.9 43.8L631.9 41.4L633.9 38.9L635.9 36.9L637.9 34.8L639.9 32.5L641.9 30.2L643.9 28.0L645.9 25.6L647.9 23.3L649.9 21.1L651.9 18.7L653.9 16.5L655.9 14.2L658.0 12.0L658.0 12.0L655.9 14.5L653.9 17.0L651.9 19.6L649.9 22.2L647.9 24.7L645.9 27.3L643.9 30.0L641.9 32.5L639.9 35.1L637.9 37.7L635.9 40.0L633.9 42.4L631.9 45.1L629.9 47.8L627.9 50.5L625.9 53.4L623.9 56.2L621.9 59.0L619.9 61.7L617.9 64.3L615.8 66.9L613.8 69.5L611.8 72.1L609.8 74.6L607.8 77.4L605.8 80.0L603.8 82.6L601.8 85.1L599.8 87.6L597.8 90.2L595.8 92.9L593.8 95.6L591.8 98.3L589.8 101.5L587.8 104.2L585.8 106.9L583.8 109.6L581.8 112.3L579.8 114.8L577.8 117.5L575.7 120.1L573.7 122.9L571.7 125.5L569.7 128.1L567.7 130.9L565.7 133.6L563.7 136.4L561.7 139.2L559.7 141.8L557.7 144.6L555.7 147.0L553.7 149.6L551.7 152.1L549.7 154.8L547.7 157.2L545.7 159.9L543.7 162.1L541.7 164.6L539.7 166.9L537.7 169.3L535.6 171.8L533.6 174.2L531.6 176.9L529.6 179.5L527.6 182.1L525.6 184.6L523.6 186.9L521.6 189.2L519.6 191.8L517.6 194.0L515.6 196.4L513.6 199.1L511.6 201.4L509.6 203.7L507.6 206.3L505.6 208.7L503.6 211.0L501.6 213.5L499.6 215.8L497.6 218.0L495.5 220.2L493.5 222.5L491.5 224.7L489.5 226.9L487.5 228.7L485.5 230.9L483.5 233.2L481.5 235.3L479.5 237.5L477.5 239.6L475.5 241.6L473.5 243.6L471.5 245.4L469.5 247.5L467.5 249.8L465.5 252.0L463.5 254.0L461.5 256.1L459.5 257.9L457.5 259.8L455.4 261.7L453.4 264.0L451.4 266.0L449.4 268.0L447.4 270.0L445.4 271.9L443.4 273.7L441.4 275.6L439.4 277.6L437.4 279.6L435.4 281.6L433.4 283.5L431.4 285.4L429.4 287.2L427.4 288.8L425.4 290.3L423.4 292.2L421.4 293.6L419.4 295.1L417.4 296.4L415.3 298.1L413.3 299.5L411.3 301.2L409.3 302.9L407.3 305.0L405.3 306.8L403.3 308.3L401.3 310.1L399.3 311.8L397.3 313.1L395.3 314.7L393.3 316.3L391.3 317.7L389.3 319.2L387.3 321.2L385.3 322.8L383.3 324.5L381.3 326.1L379.3 327.7L377.3 329.0L375.2 330.8L373.2 332.4L371.2 334.2L369.2 335.7L367.2 337.8L365.2 339.7L363.2 341.7L361.2 343.8L359.2 345.9L357.2 347.4L355.2 349.0L353.2 350.9L351.2 352.4L349.2 354.3L347.2 356.1L345.2 358.1L343.2 359.8L341.2 361.7L339.2 363.7L337.2 365.4L335.1 367.3L333.1 368.9L331.1 370.6L329.1 372.2L327.1 374.1L325.1 375.8L323.1 377.7L321.1 379.7L319.1 381.6L317.1 383.0L315.1 384.7L313.1 386.5L311.1 388.0L309.1 389.5L307.1 391.5L305.1 393.1L303.1 394.7L301.1 396.3L299.1 398.0L297.1 399.6L295.0 401.1L293.0 402.4L291.0 403.7L289.0 405.3L287.0 406.8L285.0 408.6L283.0 410.3L281.0 412.1L279.0 413.9L277.0 415.4L275.0 416.8L273.0 418.4L271.0 420.0L269.0 421.5L267.0 423.0L265.0 424.6L263.0 426.2L261.0 427.8L259.0 429.2L256.9 431.0L254.9 432.5L252.9 434.0L250.9 435.8L248.9 437.5L246.9 438.8L244.9 440.5L242.9 442.2L240.9 443.6L238.9 445.3L236.9 446.9L234.9 448.5L232.9 450.3L230.9 451.7L228.9 453.1L226.9 454.7L224.9 456.2L222.9 457.4L220.9 459.1L218.9 460.4L216.9 461.9L214.8 463.5L212.8 465.1L210.8 466.6L208.8 468.3L206.8 469.9L204.8 471.3L202.8 472.8L200.8 474.4L198.8 475.9L196.8 477.5L194.8 478.9L192.8 480.5L190.8 481.9L188.8 483.2L186.8 484.8L184.8 486.4L182.8 487.9L180.8 489.5L178.8 491.1L176.8 492.7L174.7 494.2L172.7 495.6L170.7 497.3L168.7 498.7L166.7 500.0L164.7 501.8L162.7 503.3L160.7 504.9L158.7 506.6L156.7 508.3L154.7 509.8L152.7 511.4L150.7 512.8L148.7 514.4L146.7 516.0L144.7 517.8L142.7 519.2L140.7 521.0L138.7 522.6L136.7 524.4L134.6 525.9L132.6 527.8L130.6 529.5L128.6 531.1L126.6 532.7L124.6 534.2L122.6 535.9L120.6 537.6L118.6 539.2L116.6 540.9L114.6 542.5L112.6 544.2L110.6 545.9L108.6 547.6L106.6 549.4L104.6 551.2L102.6 552.9L100.6 554.7L98.6 556.5L96.5 558.3Z" fill="#F7F4D0" stroke="none"/>
<path d="M96.5 558.3L98.6 557.2L100.6 556.1L102.6 555.0L104.6 553.9L106.6 552.9L108.6 551.7L110.6 550.7L112.6 549.5L114.6 548.4L116.6 547.0L118.6 545.8L120.6 544.6L122.6 543.4L124.6 542.0L126.6 540.9L128.6 539.7L130.6 538.4L132.6 536.9L134.6 535.5L136.7 534.3L138.7 532.9L140.7 531.6L142.7 530.5L144.7 529.4L146.7 528.0L148.7 526.4L150.7 524.9L152.7 523.4L154.7 521.9L156.7 520.4L158.7 519.2L160.7 517.8L162.7 516.3L164.7 515.0L166.7 513.5L168.7 512.0L170.7 510.5L172.7 508.8L174.7 507.2L176.8 505.5L178.8 503.7L180.8 502.0L182.8 500.6L184.8 499.1L186.8 497.7L188.8 496.3L190.8 494.9L192.8 493.1L194.8 491.5L196.8 489.7L198.8 487.9L200.8 486.1L202.8 484.5L204.8 482.9L206.8 481.3L208.8 479.7L210.8 477.8L212.8 476.2L214.8 474.4L216.9 472.7L218.9 470.8L220.9 469.2L222.9 467.3L224.9 465.6L226.9 463.8L228.9 462.3L230.9 460.5L232.9 458.9L234.9 457.2L236.9 455.4L238.9 453.5L240.9 451.9L242.9 449.9L244.9 448.1L246.9 446.4L248.9 444.8L250.9 443.1L252.9 441.4L254.9 439.7L256.9 437.9L259.0 435.8L261.0 434.0L263.0 432.1L265.0 430.2L267.0 428.4L269.0 426.7L271.0 424.7L273.0 422.9L275.0 421.3L277.0 419.5L279.0 417.6L281.0 416.0L283.0 414.3L285.0 412.5L287.0 410.8L289.0 409.0L291.0 407.3L293.0 405.6L295.0 403.9L297.1 402.1L299.1 400.4L301.1 398.7L303.1 396.9L305.1 395.1L307.1 393.3L309.1 391.7L311.1 389.8L313.1 388.2L315.1 386.5L317.1 384.9L319.1 383.3L321.1 381.7L323.1 379.9L325.1 378.2L327.1 376.5L329.1 374.7L331.1 373.1L333.1 371.4L335.1 369.6L337.2 367.8L339.2 366.1L341.2 364.3L343.2 362.7L345.2 361.2L347.2 359.5L349.2 357.8L351.2 356.3L353.2 354.6L355.2 352.8L357.2 351.2L359.2 349.3L361.2 347.5L363.2 345.6L365.2 343.9L367.2 342.2L369.2 340.4L371.2 338.6L373.2 336.9L375.2 335.1L377.3 333.4L379.3 331.7L381.3 330.0L383.3 328.1L385.3 326.4L387.3 324.5L389.3 322.7L391.3 320.8L393.3 319.1L395.3 317.2L397.3 315.4L399.3 313.6L401.3 311.6L403.3 309.7L405.3 307.9L407.3 305.9L409.3 303.9L411.3 302.2L413.3 300.2L415.3 298.2L417.4 296.4L419.4 294.4L421.4 292.5L423.4 290.7L425.4 288.8L427.4 286.8L429.4 284.6L431.4 282.5L433.4 280.2L435.4 278.1L437.4 276.1L439.4 274.2L441.4 272.3L443.4 270.5L445.4 268.6L447.4 266.5L449.4 264.4L451.4 262.2L453.4 260.1L455.4 258.0L457.5 255.9L459.5 253.9L461.5 251.7L463.5 249.6L465.5 247.1L467.5 244.9L469.5 242.8L471.5 240.7L473.5 238.5L475.5 236.5L477.5 234.4L479.5 232.2L481.5 229.9L483.5 227.5L485.5 225.2L487.5 223.0L489.5 220.8L491.5 218.7L493.5 216.6L495.5 214.3L497.6 212.1L499.6 209.7L501.6 207.4L503.6 205.1L505.6 202.9L507.6 200.5L509.6 198.4L511.6 196.1L513.6 193.8L515.6 191.6L517.6 189.3L519.6 186.9L521.6 184.6L523.6 182.1L525.6 179.9L527.6 177.5L529.6 175.2L531.6 172.9L533.6 170.6L535.6 167.9L537.7 165.5L539.7 163.1L541.7 160.5L543.7 158.1L545.7 155.8L547.7 153.4L549.7 151.0L551.7 148.9L553.7 146.5L555.7 143.8L557.7 141.3L559.7 138.8L561.7 136.1L563.7 133.5L565.7 131.1L567.7 128.6L569.7 126.0L571.7 123.6L573.7 121.1L575.7 118.9L577.8 116.6L579.8 114.1L581.8 111.7L583.8 109.3L585.8 106.6L587.8 104.1L589.8 101.3L591.8 98.6L593.8 96.1L595.8 93.3L597.8 90.7L599.8 88.3L601.8 85.7L603.8 83.0L605.8 80.7L607.8 78.0L609.8 75.4L611.8 73.0L613.8 70.4L615.8 67.7L617.9 65.1L619.9 62.4L621.9 59.6L623.9 57.1L625.9 54.3L627.9 51.9L629.9 49.3L631.9 46.8L633.9 44.1L635.9 41.5L637.9 38.7L639.9 36.1L641.9 33.3L643.9 30.6L645.9 27.9L647.9 25.3L649.9 22.6L651.9 20.0L653.9 17.3L655.9 14.7L658.0 12.0L658.0 12.0L655.9 14.8L653.9 17.6L651.9 20.4L649.9 23.2L647.9 26.0L645.9 28.8L643.9 31.6L641.9 34.4L639.9 37.4L637.9 40.1L635.9 43.1L633.9 45.8L631.9 48.6L629.9 51.3L627.9 54.1L625.9 56.6L623.9 59.5L621.9 62.2L619.9 65.1L617.9 67.9L615.8 70.7L613.8 73.5L611.8 76.3L609.8 78.9L607.8 81.5L605.8 84.4L603.8 86.9L601.8 89.7L599.8 92.4L597.8 94.9L595.8 97.7L593.8 100.5L591.8 103.2L589.8 106.0L587.8 108.8L585.8 111.5L583.8 114.3L581.8 116.8L579.8 119.3L577.8 121.9L575.7 124.3L573.7 126.6L571.7 129.2L569.7 131.8L567.7 134.4L565.7 137.1L563.7 139.5L561.7 142.2L559.7 145.0L557.7 147.6L555.7 150.3L553.7 153.0L551.7 155.5L549.7 157.7L547.7 160.2L545.7 162.8L543.7 165.3L541.7 167.7L539.7 170.5L537.7 173.0L535.6 175.4L533.6 178.2L531.6 180.6L529.6 183.1L527.6 185.5L525.6 188.0L523.6 190.2L521.6 192.9L519.6 195.3L517.6 197.8L515.6 200.2L513.6 202.5L511.6 204.9L509.6 207.3L507.6 209.6L505.6 212.0L503.6 214.3L501.6 216.8L499.6 219.2L497.6 221.7L495.5 224.0L493.5 226.4L491.5 228.6L489.5 230.8L487.5 233.1L485.5 235.5L483.5 237.8L481.5 240.3L479.5 242.7L477.5 245.0L475.5 247.2L473.5 249.4L471.5 251.7L469.5 253.8L467.5 256.1L465.5 258.4L463.5 261.0L461.5 263.2L459.5 265.5L457.5 267.7L455.4 269.8L453.4 272.0L451.4 274.2L449.4 276.5L447.4 278.7L445.4 281.0L443.4 283.0L441.4 284.9L439.4 286.8L437.4 288.9L435.4 291.0L433.4 293.2L431.4 295.6L429.4 297.8L427.4 300.0L425.4 302.1L423.4 304.1L421.4 305.9L419.4 307.9L417.4 310.0L415.3 311.8L413.3 313.9L411.3 316.0L409.3 317.8L407.3 319.8L405.3 321.9L403.3 323.7L401.3 325.7L399.3 327.8L397.3 329.7L395.3 331.6L393.3 333.5L391.3 335.3L389.3 337.3L387.3 339.2L385.3 341.1L383.3 342.9L381.3 344.8L379.3 346.6L377.3 348.4L375.2 350.0L373.2 351.8L371.2 353.5L369.2 355.3L367.2 357.0L365.2 358.7L363.2 360.4L361.2 362.2L359.2 364.0L357.2 365.8L355.2 367.5L353.2 369.2L351.2 370.8L349.2 372.3L347.2 373.9L345.2 375.6L343.2 377.1L341.2 378.7L339.2 380.5L337.2 382.1L335.1 383.8L333.1 385.6L331.1 387.2L329.1 388.8L327.1 390.6L325.1 392.3L323.1 393.9L321.1 395.7L319.1 397.2L317.1 398.8L315.1 400.4L313.1 402.0L311.1 403.6L309.1 405.5L307.1 407.0L305.1 408.8L303.1 410.6L301.1 412.4L299.1 414.0L297.1 415.7L295.0 417.4L293.0 419.1L291.0 420.8L289.0 422.4L287.0 424.2L285.0 425.8L283.0 427.6L281.0 429.3L279.0 430.9L277.0 432.7L275.0 434.5L273.0 436.0L271.0 437.8L269.0 439.8L267.0 441.5L265.0 443.2L263.0 445.0L261.0 446.7L259.0 448.5L256.9 450.5L254.9 452.1L252.9 453.8L250.9 455.3L248.9 456.9L246.9 458.5L244.9 460.0L242.9 461.7L240.9 463.6L238.9 465.1L236.9 466.9L234.9 468.6L232.9 470.2L230.9 471.7L228.9 473.4L226.9 474.8L224.9 476.5L222.9 478.1L220.9 479.9L218.9 481.4L216.9 483.1L214.8 484.8L212.8 486.4L210.8 487.9L208.8 489.7L206.8 491.2L204.8 492.6L202.8 494.1L200.8 495.5L198.8 497.1L196.8 498.8L194.8 500.5L192.8 502.0L190.8 503.7L188.8 504.8L186.8 506.1L184.8 507.3L182.8 508.8L180.8 510.0L178.8 511.6L176.8 513.3L174.7 514.7L172.7 516.3L170.7 517.8L168.7 519.2L166.7 520.5L164.7 521.8L162.7 523.0L160.7 524.4L158.7 525.7L156.7 526.7L154.7 528.1L152.7 529.4L150.7 530.7L148.7 532.0L146.7 533.3L144.7 534.5L142.7 535.4L140.7 536.3L138.7 537.4L136.7 538.6L134.6 539.6L132.6 540.8L130.6 542.0L128.6 543.2L126.6 544.1L124.6 545.0L122.6 546.1L120.6 547.2L118.6 548.2L116.6 549.1L114.6 550.3L112.6 551.3L110.6 552.2L108.6 553.0L106.6 553.9L104.6 554.8L102.6 555.6L100.6 556.6L98.6 557.4L96.5 558.3Z" fill="#CBFFE0" stroke="none"/>
<path d="M96.5 558.3 L658.0 12.0" stroke="#808080" stroke-width="3" stroke-dasharray="11.15 4.85" stroke-dashoffset="-0.4"/>
<path d="M96.5 558.3L98.6 542.5L100.6 533.3L102.6 525.1L104.6 517.4L106.6 510.1L108.6 503.0L110.6 496.1L112.6 489.4L114.6 482.8L116.6 476.4L118.6 470.1L120.6 463.9L122.6 458.0L124.6 452.5L126.6 447.4L128.6 442.4L130.6 438.0L132.6 433.6L134.6 429.4L136.7 425.2L138.7 421.5L140.7 417.6L142.7 413.7L144.7 410.0L146.7 406.4L148.7 402.7L150.7 399.2L152.7 395.9L154.7 392.6L156.7 389.4L158.7 386.1L160.7 382.9L162.7 379.5L164.7 376.3L166.7 373.0L168.7 369.8L170.7 366.5L172.7 363.4L174.7 360.3L176.8 357.3L178.8 354.2L180.8 351.2L182.8 348.2L184.8 345.2L186.8 342.1L188.8 339.1L190.8 336.1L192.8 333.1L194.8 330.1L196.8 327.3L198.8 324.5L200.8 321.7L202.8 319.1L204.8 316.3L206.8 313.6L208.8 310.8L210.8 308.0L212.8 305.2L214.8 302.7L216.9 299.9L218.9 297.4L220.9 294.9L222.9 292.4L224.9 289.9L226.9 287.5L228.9 284.9L230.9 282.5L232.9 280.2L234.9 277.7L236.9 275.5L238.9 273.2L240.9 270.9L242.9 268.3L244.9 266.0L246.9 263.6L248.9 261.3L250.9 258.9L252.9 256.8L254.9 254.5L256.9 252.1L259.0 250.0L261.0 247.7L263.0 245.5L265.0 243.4L267.0 241.2L269.0 239.1L271.0 237.0L273.0 234.9L275.0 232.7L277.0 230.5L279.0 228.4L281.0 226.3L283.0 224.3L285.0 222.3L287.0 220.3L289.0 218.3L291.0 216.4L293.0 214.3L295.0 212.3L297.1 210.5L299.1 208.5L301.1 206.7L303.1 204.9L305.1 202.9L307.1 201.0L309.1 199.1L311.1 197.2L313.1 195.4L315.1 193.5L317.1 191.7L319.1 190.1L321.1 188.2L323.1 186.5L325.1 184.8L327.1 183.0L329.1 181.3L331.1 179.8L333.1 178.1L335.1 176.5L337.2 175.0L339.2 173.4L341.2 171.6L343.2 170.0L345.2 168.4L347.2 166.7L349.2 165.1L351.2 163.7L353.2 162.2L355.2 160.8L357.2 159.3L359.2 157.8L361.2 156.3L363.2 154.8L365.2 153.2L367.2 151.7L369.2 150.1L371.2 148.6L373.2 147.1L375.2 145.7L377.3 144.3L379.3 142.9L381.3 141.5L383.3 140.2L385.3 138.7L387.3 137.3L389.3 136.0L391.3 134.7L393.3 133.3L395.3 132.0L397.3 130.7L399.3 129.3L401.3 128.0L403.3 126.7L405.3 125.4L407.3 124.0L409.3 122.6L411.3 121.4L413.3 120.0L415.3 118.7L417.4 117.1L419.4 115.8L421.4 114.3L423.4 113.0L425.4 111.6L427.4 110.4L429.4 109.2L431.4 108.1L433.4 106.8L435.4 105.6L437.4 104.3L439.4 103.1L441.4 101.8L443.4 100.6L445.4 99.4L447.4 98.2L449.4 96.9L451.4 95.7L453.4 94.5L455.4 93.3L457.5 91.9L459.5 90.8L461.5 89.5L463.5 88.3L465.5 87.2L467.5 86.0L469.5 84.8L471.5 83.7L473.5 82.6L475.5 81.4L477.5 80.3L479.5 79.0L481.5 77.9L483.5 76.8L485.5 75.8L487.5 74.7L489.5 73.7L491.5 72.6L493.5 71.3L495.5 70.2L497.6 69.3L499.6 68.2L501.6 67.3L503.6 66.3L505.6 65.2L507.6 64.3L509.6 63.2L511.6 62.1L513.6 61.2L515.6 60.2L517.6 59.2L519.6 58.4L521.6 57.4L523.6 56.4L525.6 55.4L527.6 54.3L529.6 53.5L531.6 52.4L533.6 51.7L535.6 50.8L537.7 49.8L539.7 48.8L541.7 48.0L543.7 47.2L545.7 46.5L547.7 45.8L549.7 45.1L551.7 44.2L553.7 43.3L555.7 42.4L557.7 41.7L559.7 40.8L561.7 40.0L563.7 39.4L565.7 38.6L567.7 37.9L569.7 37.2L571.7 36.6L573.7 35.8L575.7 35.0L577.8 34.2L579.8 33.5L581.8 32.9L583.8 32.2L585.8 31.6L587.8 31.0L589.8 30.3L591.8 29.5L593.8 29.0L595.8 28.3L597.8 27.6L599.8 27.0L601.8 26.4L603.8 25.8L605.8 25.2L607.8 24.6L609.8 24.0L611.8 23.4L613.8 22.8L615.8 22.4L617.9 21.8L619.9 21.2L621.9 20.7L623.9 20.3L625.9 19.6L627.9 19.1L629.9 18.6L631.9 18.1L633.9 17.5L635.9 17.1L637.9 16.6L639.9 16.1L641.9 15.6L643.9 15.2L645.9 14.6L647.9 14.2L649.9 13.8L651.9 13.3L653.9 12.8L655.9 12.4L658.0 12.0" stroke="#5BC5F2" stroke-width="3.7"/>
<path d="M96.5 558.3L98.6 554.8L100.6 551.4L102.6 548.1L104.6 544.8L106.6 541.6L108.6 538.4L110.6 535.3L112.6 532.2L114.6 529.1L116.6 526.0L118.6 523.0L120.6 520.1L122.6 517.2L124.6 514.5L126.6 511.9L128.6 509.3L130.6 506.6L132.6 504.0L134.6 501.4L136.7 498.7L138.7 496.2L140.7 493.8L142.7 491.1L144.7 488.7L146.7 486.1L148.7 483.3L150.7 480.7L152.7 478.2L154.7 475.7L156.7 473.4L158.7 471.0L160.7 468.6L162.7 466.2L164.7 463.7L166.7 461.0L168.7 458.8L170.7 456.3L172.7 453.9L174.7 451.6L176.8 449.6L178.8 447.4L180.8 445.2L182.8 442.9L184.8 440.5L186.8 438.0L188.8 435.7L190.8 433.4L192.8 431.3L194.8 429.1L196.8 427.0L198.8 425.0L200.8 422.9L202.8 420.8L204.8 418.7L206.8 416.6L208.8 414.3L210.8 412.5L212.8 410.7L214.8 409.0L216.9 407.2L218.9 405.5L220.9 403.4L222.9 401.6L224.9 399.8L226.9 397.9L228.9 396.1L230.9 394.3L232.9 392.3L234.9 390.5L236.9 388.8L238.9 387.1L240.9 385.4L242.9 383.6L244.9 381.9L246.9 380.1L248.9 378.4L250.9 376.6L252.9 374.7L254.9 372.9L256.9 371.2L259.0 369.6L261.0 367.9L263.0 366.3L265.0 364.6L267.0 362.7L269.0 361.0L271.0 359.2L273.0 357.4L275.0 355.5L277.0 353.6L279.0 351.7L281.0 350.1L283.0 348.3L285.0 346.5L287.0 344.9L289.0 343.2L291.0 341.3L293.0 339.7L295.0 337.9L297.1 335.9L299.1 334.2L301.1 332.4L303.1 330.6L305.1 328.9L307.1 327.4L309.1 325.4L311.1 323.6L313.1 321.7L315.1 320.0L317.1 317.9L319.1 316.0L321.1 314.5L323.1 312.6L325.1 310.6L327.1 308.9L329.1 307.5L331.1 305.5L333.1 303.9L335.1 302.3L337.2 300.8L339.2 298.8L341.2 297.1L343.2 295.4L345.2 293.5L347.2 291.7L349.2 290.0L351.2 288.3L353.2 286.5L355.2 284.8L357.2 282.9L359.2 281.1L361.2 279.3L363.2 277.6L365.2 275.8L367.2 274.1L369.2 272.4L371.2 270.6L373.2 269.0L375.2 267.5L377.3 265.7L379.3 263.7L381.3 262.0L383.3 260.3L385.3 258.3L387.3 256.7L389.3 255.2L391.3 253.6L393.3 251.9L395.3 250.3L397.3 248.5L399.3 246.8L401.3 244.9L403.3 243.1L405.3 241.1L407.3 239.4L409.3 237.4L411.3 235.9L413.3 234.2L415.3 232.4L417.4 230.4L419.4 229.0L421.4 227.0L423.4 225.2L425.4 223.4L427.4 222.0L429.4 220.1L431.4 218.4L433.4 216.8L435.4 215.1L437.4 213.3L439.4 211.4L441.4 209.7L443.4 207.8L445.4 206.0L447.4 204.3L449.4 202.6L451.4 200.9L453.4 198.9L455.4 197.1L457.5 195.2L459.5 193.3L461.5 191.4L463.5 190.0L465.5 188.2L467.5 186.5L469.5 184.8L471.5 183.0L473.5 181.0L475.5 179.2L477.5 177.5L479.5 175.6L481.5 174.1L483.5 172.4L485.5 170.9L487.5 169.1L489.5 167.6L491.5 165.4L493.5 163.5L495.5 161.6L497.6 159.5L499.6 157.7L501.6 156.2L503.6 154.2L505.6 152.2L507.6 150.5L509.6 148.4L511.6 146.4L513.6 144.5L515.6 142.7L517.6 140.6L519.6 138.9L521.6 137.2L523.6 135.3L525.6 133.5L527.6 131.9L529.6 130.1L531.6 128.1L533.6 126.5L535.6 124.6L537.7 122.6L539.7 120.5L541.7 118.6L543.7 116.9L545.7 115.2L547.7 113.5L549.7 112.0L551.7 110.0L553.7 108.1L555.7 106.1L557.7 104.2L559.7 102.3L561.7 100.6L563.7 98.6L565.7 96.6L567.7 94.8L569.7 92.6L571.7 90.8L573.7 89.0L575.7 87.2L577.8 85.6L579.8 83.8L581.8 81.7L583.8 79.9L585.8 77.8L587.8 75.6L589.8 73.9L591.8 72.1L593.8 70.1L595.8 68.7L597.8 66.8L599.8 65.0L601.8 63.1L603.8 61.1L605.8 59.1L607.8 57.3L609.8 55.4L611.8 53.6L613.8 51.8L615.8 49.8L617.9 47.9L619.9 46.0L621.9 44.2L623.9 42.6L625.9 41.1L627.9 39.2L629.9 37.5L631.9 35.4L633.9 33.6L635.9 31.7L637.9 30.0L639.9 28.1L641.9 26.4L643.9 24.5L645.9 22.7L647.9 20.9L649.9 19.2L651.9 17.4L653.9 15.6L655.9 13.8L658.0 12.0" stroke="#F5463F" stroke-width="3.7"/>
<path d="M96.5 558.3L98.6 556.4L100.6 554.5L102.6 552.6L104.6 550.8L106.6 549.0L108.6 547.1L110.6 545.3L112.6 543.5L114.6 541.7L116.6 540.0L118.6 538.2L120.6 536.5L122.6 534.7L124.6 533.0L126.6 531.4L128.6 529.7L130.6 527.9L132.6 526.2L134.6 524.2L136.7 522.6L138.7 520.8L140.7 519.0L142.7 517.1L144.7 515.6L146.7 513.8L148.7 512.1L150.7 510.4L152.7 508.9L154.7 507.3L156.7 505.7L158.7 503.9L160.7 502.1L162.7 500.5L164.7 498.9L166.7 497.0L168.7 495.7L170.7 494.2L172.7 492.4L174.7 490.9L176.8 489.3L178.8 487.6L180.8 486.0L182.8 484.3L184.8 482.7L186.8 481.0L188.8 479.4L190.8 478.0L192.8 476.6L194.8 474.9L196.8 473.4L198.8 471.8L200.8 470.2L202.8 468.5L204.8 466.9L206.8 465.5L208.8 463.8L210.8 461.9L212.8 460.4L214.8 458.6L216.9 456.9L218.9 455.3L220.9 453.9L222.9 452.0L224.9 450.7L226.9 449.1L228.9 447.3L230.9 445.8L232.9 444.3L234.9 442.4L236.9 440.7L238.9 438.9L240.9 437.1L242.9 435.5L244.9 433.7L246.9 432.0L248.9 430.5L250.9 428.7L252.9 426.8L254.9 425.2L256.9 423.5L259.0 421.6L261.0 420.1L263.0 418.3L265.0 416.6L267.0 414.9L269.0 413.1L271.0 411.4L273.0 409.6L275.0 407.9L277.0 406.2L279.0 404.5L281.0 402.5L283.0 400.5L285.0 398.6L287.0 396.6L289.0 395.0L291.0 393.2L293.0 391.7L295.0 390.1L297.1 388.5L299.1 386.6L301.1 384.8L303.1 383.0L305.1 381.2L307.1 379.4L309.1 377.2L311.1 375.5L313.1 373.7L315.1 371.8L317.1 369.9L319.1 368.3L321.1 366.2L323.1 364.2L325.1 362.3L327.1 360.6L329.1 358.7L331.1 357.1L333.1 355.4L335.1 353.8L337.2 351.9L339.2 350.2L341.2 348.2L343.2 346.3L345.2 344.6L347.2 342.6L349.2 340.8L351.2 338.9L353.2 337.4L355.2 335.5L357.2 333.9L359.2 332.4L361.2 330.3L363.2 328.2L365.2 326.2L367.2 324.3L369.2 322.2L371.2 320.7L373.2 318.9L375.2 317.3L377.3 315.5L379.3 314.0L381.3 312.2L383.3 310.4L385.3 308.5L387.3 306.7L389.3 304.5L391.3 302.8L393.3 301.2L395.3 299.4L397.3 297.6L399.3 296.1L401.3 294.3L403.3 292.2L405.3 290.5L407.3 288.6L409.3 286.2L411.3 284.3L413.3 282.4L415.3 280.8L417.4 279.0L419.4 277.5L421.4 275.8L423.4 274.2L425.4 272.1L427.4 270.3L429.4 268.6L431.4 266.6L433.4 264.5L435.4 262.7L437.4 260.8L439.4 258.8L441.4 257.0L443.4 255.2L445.4 253.5L447.4 251.6L449.4 249.7L451.4 247.8L453.4 245.9L455.4 243.7L457.5 241.9L459.5 240.1L461.5 238.3L463.5 236.3L465.5 234.4L467.5 232.3L469.5 230.1L471.5 228.1L473.5 226.4L475.5 224.5L477.5 222.6L479.5 220.5L481.5 218.4L483.5 216.4L485.5 214.3L487.5 212.1L489.5 210.4L491.5 208.4L493.5 206.5L495.5 204.4L497.6 202.5L499.6 200.4L501.6 198.4L503.6 196.1L505.6 194.1L507.6 191.9L509.6 189.6L511.6 187.4L513.6 185.4L515.6 182.9L517.6 180.8L519.6 178.7L521.6 176.5L523.6 174.4L525.6 172.3L527.6 170.0L529.6 167.6L531.6 165.3L533.6 162.8L535.6 160.6L537.7 158.3L539.7 156.2L541.7 154.1L543.7 151.9L545.7 149.9L547.7 147.4L549.7 145.2L551.7 142.7L553.7 140.5L555.7 138.0L557.7 135.8L559.7 133.3L561.7 130.9L563.7 128.3L565.7 125.7L567.7 123.2L569.7 120.7L571.7 118.3L573.7 115.9L575.7 113.3L577.8 110.9L579.8 108.4L581.8 106.2L583.8 103.7L585.8 101.2L587.8 98.7L589.8 96.2L591.8 93.3L593.8 90.7L595.8 88.2L597.8 85.8L599.8 83.4L601.8 81.1L603.8 78.7L605.8 76.3L607.8 73.8L609.8 71.2L611.8 68.8L613.8 66.4L615.8 63.9L617.9 61.4L619.9 59.0L621.9 56.4L623.9 53.8L625.9 51.1L627.9 48.4L629.9 45.8L631.9 43.3L633.9 40.7L635.9 38.4L637.9 36.2L639.9 33.8L641.9 31.3L643.9 29.0L645.9 26.4L647.9 24.0L649.9 21.6L651.9 19.2L653.9 16.8L655.9 14.4L658.0 12.0" stroke="#EBD060" stroke-width="3.7"/>
<path d="M96.5 558.3L98.6 557.3L100.6 556.3L102.6 555.3L104.6 554.3L106.6 553.4L108.6 552.4L110.6 551.4L112.6 550.4L114.6 549.3L116.6 548.1L118.6 547.0L120.6 545.9L122.6 544.7L124.6 543.5L126.6 542.5L128.6 541.4L130.6 540.2L132.6 538.9L134.6 537.5L136.7 536.4L138.7 535.2L140.7 534.0L142.7 533.0L144.7 531.9L146.7 530.6L148.7 529.2L150.7 527.8L152.7 526.4L154.7 525.0L156.7 523.6L158.7 522.5L160.7 521.1L162.7 519.7L164.7 518.4L166.7 517.0L168.7 515.6L170.7 514.1L172.7 512.6L174.7 511.0L176.8 509.4L178.8 507.7L180.8 506.0L182.8 504.7L184.8 503.2L186.8 501.9L188.8 500.6L190.8 499.3L192.8 497.6L194.8 496.0L196.8 494.3L198.8 492.5L200.8 490.8L202.8 489.3L204.8 487.8L206.8 486.2L208.8 484.7L210.8 482.9L212.8 481.3L214.8 479.6L216.9 477.9L218.9 476.1L220.9 474.5L222.9 472.7L224.9 471.0L226.9 469.3L228.9 467.9L230.9 466.1L232.9 464.6L234.9 462.9L236.9 461.1L238.9 459.3L240.9 457.7L242.9 455.8L244.9 454.0L246.9 452.4L248.9 450.9L250.9 449.2L252.9 447.6L254.9 445.9L256.9 444.2L259.0 442.1L261.0 440.4L263.0 438.6L265.0 436.7L267.0 435.0L269.0 433.3L271.0 431.3L273.0 429.5L275.0 427.9L277.0 426.1L279.0 424.3L281.0 422.6L283.0 420.9L285.0 419.1L287.0 417.5L289.0 415.7L291.0 414.1L293.0 412.4L295.0 410.6L297.1 408.9L299.1 407.2L301.1 405.5L303.1 403.7L305.1 401.9L307.1 400.2L309.1 398.6L311.1 396.7L313.1 395.1L315.1 393.4L317.1 391.9L319.1 390.3L321.1 388.7L323.1 386.9L325.1 385.3L327.1 383.5L329.1 381.7L331.1 380.2L333.1 378.5L335.1 376.7L337.2 375.0L339.2 373.3L341.2 371.5L343.2 369.9L345.2 368.4L347.2 366.7L349.2 365.0L351.2 363.5L353.2 361.9L355.2 360.2L357.2 358.5L359.2 356.7L361.2 354.9L363.2 353.0L365.2 351.3L367.2 349.6L369.2 347.9L371.2 346.0L373.2 344.4L375.2 342.6L377.3 340.9L379.3 339.1L381.3 337.4L383.3 335.5L385.3 333.8L387.3 331.9L389.3 330.0L391.3 328.1L393.3 326.3L395.3 324.4L397.3 322.5L399.3 320.7L401.3 318.7L403.3 316.7L405.3 314.9L407.3 312.8L409.3 310.9L411.3 309.1L413.3 307.1L415.3 305.0L417.4 303.2L419.4 301.1L421.4 299.2L423.4 297.4L425.4 295.4L427.4 293.4L429.4 291.2L431.4 289.1L433.4 286.7L435.4 284.5L437.4 282.5L439.4 280.5L441.4 278.6L443.4 276.8L445.4 274.8L447.4 272.6L449.4 270.4L451.4 268.2L453.4 266.0L455.4 263.9L457.5 261.8L459.5 259.7L461.5 257.4L463.5 255.3L465.5 252.8L467.5 250.5L469.5 248.3L471.5 246.2L473.5 243.9L475.5 241.9L477.5 239.7L479.5 237.4L481.5 235.1L483.5 232.7L485.5 230.3L487.5 228.1L489.5 225.8L491.5 223.6L493.5 221.5L495.5 219.1L497.6 216.9L499.6 214.4L501.6 212.1L503.6 209.7L505.6 207.4L507.6 205.1L509.6 202.8L511.6 200.5L513.6 198.2L515.6 195.9L517.6 193.6L519.6 191.1L521.6 188.7L523.6 186.1L525.6 183.9L527.6 181.5L529.6 179.2L531.6 176.7L533.6 174.4L535.6 171.7L537.7 169.2L539.7 166.8L541.7 164.1L543.7 161.7L545.7 159.3L547.7 156.8L549.7 154.3L551.7 152.2L553.7 149.7L555.7 147.1L557.7 144.4L559.7 141.9L561.7 139.2L563.7 136.5L565.7 134.1L567.7 131.5L569.7 128.9L571.7 126.4L573.7 123.9L575.7 121.6L577.8 119.2L579.8 116.7L581.8 114.2L583.8 111.8L585.8 109.1L587.8 106.5L589.8 103.7L591.8 100.9L593.8 98.3L595.8 95.5L597.8 92.8L599.8 90.3L601.8 87.7L603.8 84.9L605.8 82.5L607.8 79.8L609.8 77.2L611.8 74.6L613.8 72.0L615.8 69.2L617.9 66.5L619.9 63.8L621.9 60.9L623.9 58.3L625.9 55.4L627.9 53.0L629.9 50.3L631.9 47.7L633.9 45.0L635.9 42.3L637.9 39.4L639.9 36.7L641.9 33.9L643.9 31.1L645.9 28.3L647.9 25.6L649.9 22.9L651.9 20.2L653.9 17.5L655.9 14.7L658.0 12.0" stroke="#5AFA6E" stroke-width="3.7"/>
<path d="M96.5 558.3L98.6 558.2L100.6 558.0L102.6 557.9L104.6 557.7L106.6 557.6L108.6 557.4L110.6 557.2L112.6 557.0L114.6 556.8L116.6 556.5L118.6 556.3L120.6 556.0L122.6 555.8L124.6 555.5L126.6 555.2L128.6 554.9L130.6 554.6L132.6 554.3L134.6 554.0L136.7 553.7L138.7 553.3L140.7 553.0L142.7 552.6L144.7 552.2L146.7 551.8L148.7 551.4L150.7 551.0L152.7 550.6L154.7 550.2L156.7 549.8L158.7 549.3L160.7 548.9L162.7 548.4L164.7 547.9L166.7 547.5L168.7 547.0L170.7 546.5L172.7 546.0L174.7 545.4L176.8 544.9L178.8 544.4L180.8 543.8L182.8 543.3L184.8 542.7L186.8 542.2L188.8 541.6L190.8 541.0L192.8 540.4L194.8 539.8L196.8 539.2L198.8 538.6L200.8 538.0L202.8 537.4L204.8 536.7L206.8 536.1L208.8 535.4L210.8 534.8L212.8 534.1L214.8 533.4L216.9 532.7L218.9 532.1L220.9 531.4L222.9 530.7L224.9 530.0L226.9 529.2L228.9 528.5L230.9 527.8L232.9 527.1L234.9 526.3L236.9 525.6L238.9 524.8L240.9 524.1L242.9 523.3L244.9 522.5L246.9 521.8L248.9 521.0L250.9 520.2L252.9 519.4L254.9 518.6L256.9 517.8L259.0 517.0L261.0 516.1L263.0 515.3L265.0 514.5L267.0 513.6L269.0 512.8L271.0 511.9L273.0 511.0L275.0 510.2L277.0 509.3L279.0 508.4L281.0 507.5L283.0 506.6L285.0 505.7L287.0 504.8L289.0 503.8L291.0 502.9L293.0 501.9L295.0 501.0L297.1 500.0L299.1 499.1L301.1 498.1L303.1 497.1L305.1 496.1L307.1 495.1L309.1 494.1L311.1 493.0L313.1 492.0L315.1 490.9L317.1 489.9L319.1 488.8L321.1 487.7L323.1 486.6L325.1 485.5L327.1 484.4L329.1 483.3L331.1 482.2L333.1 481.1L335.1 479.9L337.2 478.7L339.2 477.6L341.2 476.4L343.2 475.2L345.2 474.0L347.2 472.8L349.2 471.5L351.2 470.3L353.2 469.1L355.2 467.8L357.2 466.5L359.2 465.2L361.2 463.9L363.2 462.6L365.2 461.3L367.2 460.0L369.2 458.6L371.2 457.3L373.2 455.9L375.2 454.5L377.3 453.1L379.3 451.7L381.3 450.3L383.3 448.8L385.3 447.4L387.3 445.9L389.3 444.4L391.3 442.9L393.3 441.4L395.3 439.9L397.3 438.4L399.3 436.8L401.3 435.3L403.3 433.7L405.3 432.1L407.3 430.5L409.3 428.9L411.3 427.3L413.3 425.6L415.3 424.0L417.4 422.3L419.4 420.6L421.4 418.9L423.4 417.2L425.4 415.4L427.4 413.7L429.4 411.9L431.4 410.1L433.4 408.3L435.4 406.5L437.4 404.7L439.4 402.8L441.4 401.0L443.4 399.1L445.4 397.2L447.4 395.3L449.4 393.4L451.4 391.4L453.4 389.5L455.4 387.5L457.5 385.5L459.5 383.5L461.5 381.5L463.5 379.4L465.5 377.3L467.5 375.3L469.5 373.2L471.5 371.1L473.5 368.9L475.5 366.8L477.5 364.6L479.5 362.4L481.5 360.2L483.5 358.0L485.5 355.7L487.5 353.5L489.5 351.2L491.5 348.9L493.5 346.6L495.5 344.2L497.6 341.9L499.6 339.5L501.6 337.1L503.6 334.7L505.6 332.2L507.6 329.7L509.6 327.2L511.6 324.7L513.6 322.2L515.6 319.6L517.6 317.0L519.6 314.4L521.6 311.8L523.6 309.1L525.6 306.4L527.6 303.7L529.6 300.9L531.6 298.2L533.6 295.3L535.6 292.5L537.7 289.7L539.7 286.8L541.7 283.9L543.7 280.9L545.7 277.9L547.7 274.9L549.7 271.9L551.7 268.8L553.7 265.7L555.7 262.6L557.7 259.4L559.7 256.2L561.7 253.0L563.7 249.7L565.7 246.4L567.7 243.1L569.7 239.7L571.7 236.3L573.7 232.9L575.7 229.4L577.8 225.9L579.8 222.4L581.8 218.8L583.8 215.2L585.8 211.5L587.8 207.7L589.8 203.9L591.8 200.0L593.8 196.0L595.8 192.0L597.8 187.8L599.8 183.6L601.8 179.2L603.8 174.7L605.8 170.1L607.8 165.4L609.8 160.5L611.8 155.6L613.8 150.4L615.8 145.1L617.9 139.7L619.9 134.1L621.9 128.3L623.9 122.4L625.9 116.2L627.9 109.9L629.9 103.5L631.9 97.0L633.9 90.3L635.9 83.6L637.9 76.9L639.9 70.2L641.9 63.5L643.9 56.9L645.9 50.3L647.9 43.9L649.9 37.4L651.9 31.0L653.9 24.7L655.9 18.3L658.0 12.0" stroke="#8A1CFF" stroke-width="3.7"/>
</g>
<rect x="96.55" y="12.00" width="561.40" height="546.30" fill="none" stroke="#141414" stroke-width="1.8"/>
<path d="M96.55 558.30 v7M96.55 558.30 h-7M208.83 558.30 v7M96.55 449.04 h-7M321.11 558.30 v7M96.55 339.78 h-7M433.39 558.30 v7M96.55 230.52 h-7M545.67 558.30 v7M96.55 121.26 h-7M657.95 558.30 v7M96.55 12.00 h-7" stroke="#141414" stroke-width="1.8" fill="none"/>
<text class="tick" x="96.5" y="593" text-anchor="middle">0.0</text>
<text class="tick" x="82.8" y="569.0" text-anchor="end">0.0</text>
<text class="tick" x="208.8" y="593" text-anchor="middle">0.2</text>
<text class="tick" x="82.8" y="459.7" text-anchor="end">0.2</text>
<text class="tick" x="321.1" y="593" text-anchor="middle">0.4</text>
<text class="tick" x="82.8" y="350.5" text-anchor="end">0.4</text>
<text class="tick" x="433.4" y="593" text-anchor="middle">0.6</text>
<text class="tick" x="82.8" y="241.2" text-anchor="end">0.6</text>
<text class="tick" x="545.7" y="593" text-anchor="middle">0.8</text>
<text class="tick" x="82.8" y="132.0" text-anchor="end">0.8</text>
<text class="tick" x="658.0" y="593" text-anchor="middle">1.0</text>
<text class="tick" x="82.8" y="22.7" text-anchor="end">1.0</text>
<text class="lab" x="378.8" y="629.5" text-anchor="middle">Cumulative share of population, ranked by income</text>
<text class="lab" transform="translate(21.7,284.4) rotate(-90)" text-anchor="middle">Cumulative share of certain variable</text>
<path d="M109 32.40 H145.1" stroke="#808080" stroke-width="3" stroke-dasharray="11.15 4.85" stroke-dashoffset="-1.9" fill="none"/>
<text class="leg" x="156.1" y="38.2">Equity</text>
<rect x="109" y="49.22" width="36.1" height="11.85" fill="#C9EFFA"/>
<path d="M109 55.52 H145.1" stroke="#5BC5F2" stroke-width="4" fill="none"/>
<text class="leg" x="156.1" y="61.2">Energy burden (-0.381)</text>
<rect x="109" y="72.34" width="36.1" height="11.85" fill="#F6CDCD"/>
<path d="M109 78.64 H145.1" stroke="#F5463F" stroke-width="4" fill="none"/>
<text class="leg" x="156.1" y="84.3">Total energy consumption (-0.061)</text>
<rect x="109" y="95.46" width="36.1" height="11.85" fill="#F7F4D0"/>
<path d="M109 101.76 H145.1" stroke="#EBD060" stroke-width="4" fill="none"/>
<text class="leg" x="156.1" y="107.4">Effective energy consumption (0.079)</text>
<rect x="109" y="118.58" width="36.1" height="11.85" fill="#CBFFE0"/>
<path d="M109 124.88 H145.1" stroke="#5AFA6E" stroke-width="4" fill="none"/>
<text class="leg" x="156.1" y="130.4">Energy cost (0.139)</text>
<path d="M109 148.00 H145.1" stroke="#8A1CFF" stroke-width="4" fill="none"/>
<text class="leg" x="156.1" y="153.4">Income (0.442)</text>
<rect x="125.1" y="204.9" width="3.7" height="33.1" fill="#F08E94"/>
<rect x="125.1" y="246.8" width="3.7" height="32.1" fill="#99FFFF"/>
<text class="leg2" x="149.2" y="229.2">Rural</text>
<text class="leg2" x="149.2" y="269.3">Urban</text>
</svg></body></html>
